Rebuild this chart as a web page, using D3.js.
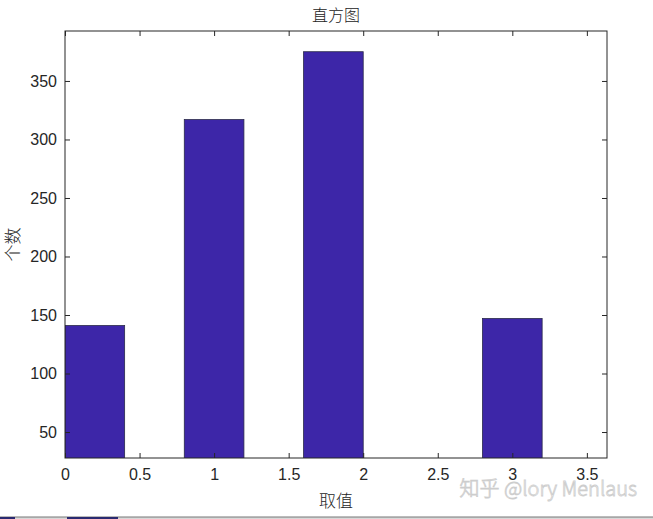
<!DOCTYPE html>
<html>
<head>
<meta charset="utf-8">
<script src="https://cdn.jsdelivr.net/npm/d3@7"></script>
<style>
html,body{margin:0;padding:0;background:#fff;}
svg{display:block;}
</style>
</head>
<body>
<svg id="chart" width="653" height="519"></svg>
<script>
// Data
const binStarts = [0, 0.4, 0.8, 1.2, 1.6, 2.0, 2.4, 2.8, 3.2];
const binWidth = 0.4;
const counts = [141, 0, 317, 0, 375, 0, 0, 147, 0];
const xTicks = [0, 0.5, 1, 1.5, 2, 2.5, 3, 3.5];
const yTicks = [50, 100, 150, 200, 250, 300, 350];
const titleText = "直方图";
const xLabel = "取值";
const yLabel = "个数";
const watermark = "知乎 @lory Menlaus";

const svg = d3.select("#chart");
const L = 65, R = 607, T = 31, B = 458;
const x = d3.scaleLinear().domain([0, 3.635]).range([L, R]);
const y = d3.scaleLinear().domain([27.8, 392.7]).range([B, T]);

const cjk = "'Noto Sans CJK SC', sans-serif";
const lat = "'Liberation Sans', Arial, Helvetica, sans-serif";

// bars (clipped to axes)
svg.append("clipPath").attr("id","clip").append("rect")
  .attr("x", L).attr("y", T).attr("width", R-L).attr("height", B-T);
const data = binStarts.map((s,i)=>({s, c: counts[i]})).filter(d=>d.c>0);
svg.append("g").attr("clip-path","url(#clip)")
  .selectAll("rect").data(data).join("rect")
  .attr("x", d=>x(d.s))
  .attr("width", d=>x(d.s+binWidth)-x(d.s))
  .attr("y", d=>y(d.c))
  .attr("height", d=>y(y.domain()[0]) - y(d.c) + 2)
  .attr("fill", "#3D26A8")
  .attr("stroke", "#2a2a4a")
  .attr("stroke-width", 0.8);

// axes
const tl = 5;
const gx = svg.append("g").attr("transform", `translate(0,${B})`)
  .call(d3.axisBottom(x).tickValues(xTicks).tickFormat(d3.format("~g")).tickSize(-tl).tickPadding(11));
const gxt = svg.append("g").attr("transform", `translate(0,${T})`)
  .call(d3.axisTop(x).tickValues(xTicks).tickFormat("").tickSize(-tl));
const gy = svg.append("g").attr("transform", `translate(${L},0)`)
  .call(d3.axisLeft(y).tickValues(yTicks).tickSize(-tl).tickPadding(8));
const gyr = svg.append("g").attr("transform", `translate(${R},0)`)
  .call(d3.axisRight(y).tickValues(yTicks).tickFormat("").tickSize(-tl));
[gx,gxt,gy,gyr].forEach(g=>{
  g.select(".domain").remove();
  g.selectAll("line").attr("stroke","#262626").attr("stroke-width",1);
  g.selectAll("text").attr("fill","#262626").style("font-family",lat).style("font-size","16px");
});
// box
svg.append("rect").attr("x",L).attr("y",T).attr("width",R-L).attr("height",B-T)
  .attr("fill","none").attr("stroke","#262626").attr("stroke-width",1);

// title & labels
svg.append("text").attr("x", (L+R)/2).attr("y", 21).attr("text-anchor","middle")
  .style("font-family",cjk).style("font-size","16px").style("font-weight","300").attr("fill","#222").text(titleText);
svg.append("text").attr("x", (L+R)/2).attr("y", 507).attr("text-anchor","middle")
  .style("font-family",cjk).style("font-size","17px").style("font-weight","300").attr("fill","#262626").text(xLabel);
svg.append("text").attr("transform", `translate(19,${(T+B)/2}) rotate(-90)`).attr("text-anchor","middle")
  .style("font-family",cjk).style("font-size","17px").style("font-weight","300").attr("fill","#262626").text(yLabel);

// watermark
svg.append("text").attr("x", 637).attr("y", 496).attr("text-anchor","end")
  .style("font-family",cjk).style("font-size","20px").style("font-weight","300")
  .attr("fill","#ffffff").attr("stroke","#c8c8c8").attr("stroke-width",0.8).attr("opacity",0.9).text(watermark);

// bottom screenshot strip
svg.append("rect").attr("x",0).attr("y",517).attr("width",653).attr("height",2).attr("fill","#d8d8d8");
svg.append("line").attr("x1",0).attr("x2",653).attr("y1",517).attr("y2",517).attr("stroke","#777").attr("stroke-width",1);
svg.append("rect").attr("x",0).attr("y",517).attr("width",15).attr("height",2).attr("fill","#2a2a70");
svg.append("rect").attr("x",67).attr("y",517).attr("width",51).attr("height",2).attr("fill","#2a2a70");
</script>
</body>
</html>
